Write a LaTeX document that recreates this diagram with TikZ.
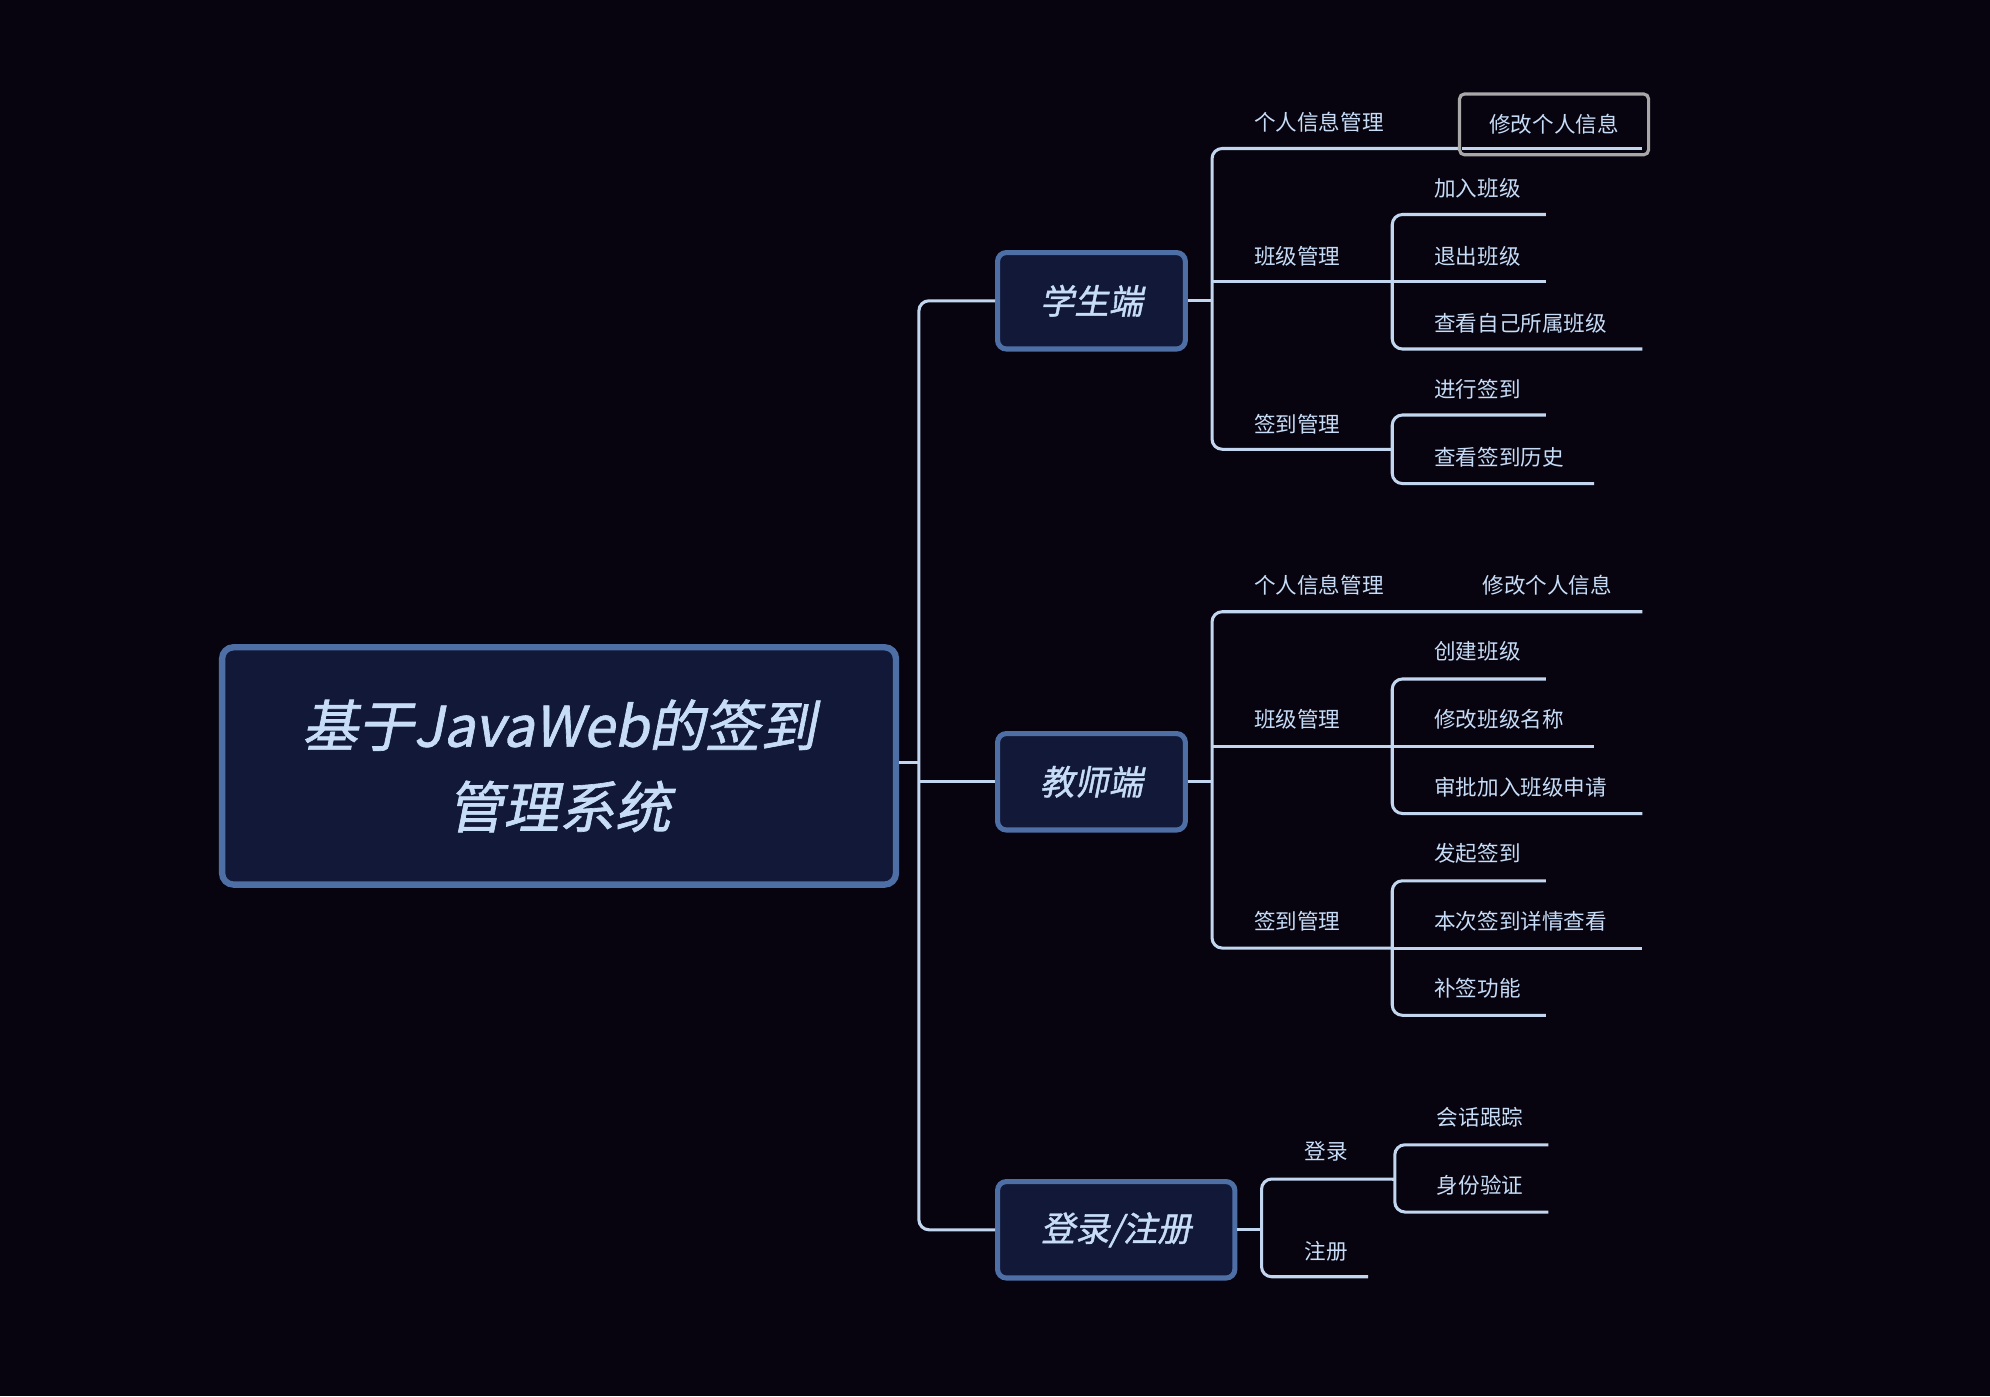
\documentclass[tikz,border=0pt]{standalone}
\usepackage{fontspec}
\setmainfont{Noto Sans CJK SC}
\newfontfamily\cjkit[FakeSlant=0.2,FakeBold=1.2]{Noto Sans CJK SC}
\definecolor{bgc}{HTML}{08040F}
\definecolor{boxfill}{HTML}{111838}
\definecolor{boxline}{HTML}{4D6FA6}
\definecolor{txt}{HTML}{C6DCF7}
\definecolor{lnc}{HTML}{C2D6F0}
\definecolor{graybox}{HTML}{A8A8A8}
\begin{document}
\begin{tikzpicture}[x=1pt,y=-1pt,
  conn/.style={draw=lnc,line width=2.4pt,rounded corners=8pt},
  mainbox/.style={draw=boxline,fill=boxfill,line width=4pt,rounded corners=7pt,text=txt,font=\cjkit\fontsize{27}{32}\selectfont,inner sep=0pt},
  lbl/.style={text=txt,font=\fontsize{17}{20}\selectfont,anchor=west,inner sep=0pt}]
\fill[bgc] (0,0) rectangle (1568,1100);
\useasboundingbox (0,0) rectangle (1568,1100);
% root
\node[mainbox,minimum width=531pt,minimum height=187pt,line width=5pt,rounded corners=9pt,font=\cjkit\fontsize{44}{64}\selectfont,align=center] (root) at (440.5,603.5) {基于JavaWeb的签到\\管理系统};
\node[mainbox,minimum width=148pt,minimum height=76pt] (stu) at (860,237) {学生端};
\node[mainbox,minimum width=148pt,minimum height=76pt] (tea) at (860,616) {教师端};
\node[mainbox,minimum width=187pt,minimum height=76pt] (log) at (879.5,969) {登录/注册};
% trunk
\draw[conn] (root.east|-0,601) -- (724,601);
\draw[conn] (stu.west) -- (724,237) -- (724,969) -- (log.west);
\draw[conn] (724,616) -- (tea.west);
% ---- student
\draw[conn] (stu.east) -- (955,237);
\draw[conn] (1150,117) -- (955,117) -- (955,354) -- (1097,354);
\draw[conn] (955,222) -- (1097,222);
\node[lbl] (s1) at (988,96) {个人信息管理};
\node[draw=graybox,line width=2.5pt,rounded corners=4pt,minimum width=149pt,minimum height=48pt,text=txt,font=\fontsize{17}{20}\selectfont,inner sep=0pt] (s1a) at (1224.5,98) {修改个人信息};
\draw[conn,rounded corners=0pt] (1152,117) -- (1294,117);
\node[lbl] (s2) at (988,202) {班级管理};
\draw[conn] (1218,169) -- (1097,169) -- (1097,275) -- (1294,275);
\draw[conn] (1097,222) -- (1218,222);
\node[lbl] (s2a) at (1130,148) {加入班级};
\node[lbl] (s2b) at (1130,202) {退出班级};
\node[lbl] (s2c) at (1130,255) {查看自己所属班级};
\node[lbl] (s3) at (988,334) {签到管理};
\draw[conn] (1218,327) -- (1097,327) -- (1097,381) -- (1256,381);
\node[lbl] (s3a) at (1130,307) {进行签到};
\node[lbl] (s3b) at (1130,360) {查看签到历史};
% ---- teacher
\draw[conn] (tea.east) -- (955,616);
\draw[conn] (1294,482) -- (955,482) -- (955,747) -- (1097,747);
\draw[conn] (955,588) -- (1097,588);
\node[lbl] (t1) at (988,461) {个人信息管理};
\node[lbl] (t1a) at (1168,461) {修改个人信息};
\node[lbl] (t2) at (988,567) {班级管理};
\draw[conn] (1218,535) -- (1097,535) -- (1097,641) -- (1294,641);
\draw[conn] (1097,588) -- (1256,588);
\node[lbl] (t2a) at (1130,513) {创建班级};
\node[lbl] (t2b) at (1130,567) {修改班级名称};
\node[lbl] (t2c) at (1130,620) {审批加入班级申请};
\node[lbl] (t3) at (988,726) {签到管理};
\draw[conn] (1218,694) -- (1097,694) -- (1097,800) -- (1218,800);
\draw[conn] (1097,747) -- (1294,747);
\node[lbl] (t3a) at (1130,672) {发起签到};
\node[lbl] (t3b) at (1130,726) {本次签到详情查看};
\node[lbl] (t3c) at (1130,779) {补签功能};
% ---- login
\draw[conn] (log.east) -- (994,969);
\draw[conn] (1099,929) -- (994,929) -- (994,1006) -- (1078,1006);
\node[lbl] (l1) at (1028,907) {登录};
\draw[conn] (1220,902) -- (1099,902) -- (1099,955) -- (1220,955);
\draw[conn,rounded corners=0pt] (1097,929) -- (1099,929);
\node[lbl] (l1a) at (1132,880) {会话跟踪};
\node[lbl] (l1b) at (1132,934) {身份验证};
\node[lbl] (l2) at (1028,986) {注册};
\end{tikzpicture}
\end{document}
